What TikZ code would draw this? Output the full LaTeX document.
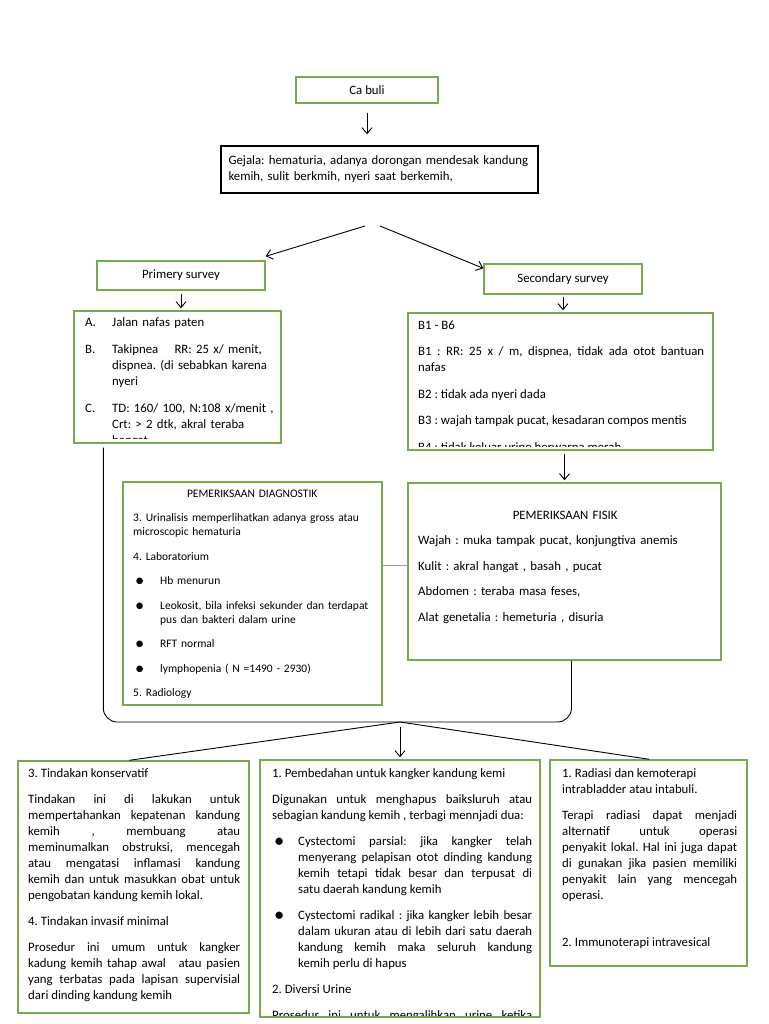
\documentclass[tikz,border=0pt]{standalone}
\usepackage{fontspec}
\setmainfont{Carlito}
\usetikzlibrary{arrows.meta}
\definecolor{boxgreen}{RGB}{122,170,80}
\definecolor{lineblue}{RGB}{120,170,220}
\newcommand{\bulitem}[1]{\makebox[#1][l]{\hspace{2pt}\raisebox{-0.2em}{\scalebox{1.6}{\textbullet}}}}
\frenchspacing

\begin{document}
\begin{tikzpicture}[x=1pt,y=-1pt,
    gbox/.style={draw=boxgreen, line width=1.4pt, inner sep=0pt, font=\fontsize{12.8}{16}\selectfont},
    kbox/.style={draw=black, line width=1.3pt, inner sep=0pt, font=\fontsize{12.8}{16}\selectfont},
    txt/.style={inner sep=0pt, anchor=base west, font=\fontsize{12.8}{16}\selectfont,
        execute at begin node={\setlength{\parskip}{#1}\tolerance=10000\hyphenpenalty=10000\hbadness=10000}},
    txt/.default=10pt,
    arr/.style={-{Straight Barb[length=6pt,width=10pt]}, line width=0.9pt},
    link/.style={line width=0.9pt}]
    \useasboundingbox (0,0) rectangle (768,1024);

    % Top
    \node[gbox, minimum width=142pt, minimum height=26pt] (cabuli) at (367,90) {Ca buli};
    \node[kbox, text width=302pt, inner xsep=7.5pt, minimum height=47pt, align=left] (gejala) at (379.5,169.5)
        {Gejala: hematuria, adanya dorongan mendesak kandung\linebreak kemih, sulit berkmih, nyeri saat berkemih,};
    \node[gbox, minimum width=168pt, minimum height=29pt] (primery) at (181,275.5) {Primery survey};
    \node[gbox, minimum width=158pt, minimum height=30pt] (secondary) at (563,279) {Secondary survey};

    % Surveys
    \node[gbox, minimum width=207pt, minimum height=132pt] (survA) at (177.5,377) {};
    \begin{scope}
        \clip (survA.north west) rectangle ([yshift=5pt]survA.south east);
        \node[txt=11pt, text width=192pt, align=left] (survAtxt) at (85,326) {%
            \hangindent=27pt\hangafter=1\makebox[27pt][l]{A.}Jalan nafas paten\par
            \hangindent=27pt\hangafter=1\makebox[27pt][l]{B.}Takipnea\hspace{12pt} RR: 25 x/ menit,\linebreak dispnea. (di sebabkan karena\linebreak nyeri\par
            \hangindent=27pt\hangafter=1\makebox[27pt][l]{C.}TD: 160/ 100, N:108 x/menit ,\linebreak Crt: > 2 dtk, akral teraba\linebreak hangat\par};
    \end{scope}
    \node[gbox, minimum width=305pt, minimum height=137pt] (survB) at (560.5,381.5) {};
    \begin{scope}
        \clip (survB.north west) rectangle ([yshift=4pt]survB.south east);
        \node[txt=10.5pt, text width=286pt, align=justify] (survBtxt) at (418,329) {%
            B1 - B6\par
            B1 : RR: 25 x / m, dispnea, tidak ada otot bantuan\linebreak nafas\par
            B2 : tidak ada nyeri dada\par
            B3 : wajah tampak pucat, kesadaran compos mentis\par
            B4 : tidak keluar urine berwarna merah};
    \end{scope}

    % Pemeriksaan
    \node[gbox, minimum width=259pt, minimum height=223pt] (diag) at (252.5,593.5) {};
    \node[txt=10.5pt, text width=238pt, align=left, font=\fontsize{11.5}{14}\selectfont] (diagtxt) at (133,497) {%
        {\centering PEMERIKSAAN DIAGNOSTIK\par}
        3. Urinalisis memperlihatkan adanya gross atau\linebreak microscopic hematuria\par
        4. Laboratorium\par
        \hangindent=27pt\hangafter=1\bulitem{27pt}Hb menurun\par
        \hangindent=27pt\hangafter=1\bulitem{27pt}Leokosit, bila infeksi sekunder dan terdapat\linebreak pus dan bakteri dalam urine\par
        \hangindent=27pt\hangafter=1\bulitem{27pt}RFT normal\par
        \hangindent=27pt\hangafter=1\bulitem{27pt}lymphopenia ( N =1490 - 2930)\par
        5. Radiology};
    \node[gbox, minimum width=313pt, minimum height=177pt] (fisik) at (564.5,571.5) {};
    \node[txt=9.5pt, text width=294pt, align=left] (fisiktxt) at (418,519) {%
        {\centering PEMERIKSAAN FISIK\par}
        Wajah : muka tampak pucat, konjungtiva anemis\par
        Kulit : akral hangat , basah , pucat\par
        Abdomen : teraba masa feses,\par
        Alat genetalia : hemeturia , disuria};

    % Tindakan
    \node[gbox, minimum width=231pt, minimum height=252pt] (konserv) at (133.5,887) {};
    \node[txt, text width=212pt, align=justify] (konservtxt) at (28,777) {%
        3. Tindakan konservatif\par
        Tindakan ini di lakukan untuk\linebreak mempertahankan kepatenan kandung\linebreak kemih , membuang atau\linebreak
        meminumalkan obstruksi, mencegah\linebreak atau mengatasi inflamasi kandung\linebreak
        kemih dan untuk masukkan obat untuk\linebreak pengobatan kandung kemih lokal.\par
        4. Tindakan invasif minimal\par
        Prosedur ini umum untuk kangker\linebreak kadung kemih tahap awal\hspace{8pt} atau pasien\linebreak
        yang terbatas pada lapisan supervisial\linebreak dari dinding kandung kemih};
    \node[gbox, minimum width=280pt, minimum height=257pt] (bedah) at (400,888.5) {};
    \begin{scope}
        \clip (bedah.north west) rectangle ([yshift=2pt]bedah.south east);
        \node[txt, text width=260pt, align=justify] (bedahtxt) at (272,777) {%
            1. Pembedahan untuk kangker kandung kemi\par
            Digunakan untuk menghapus baiksluruh atau\linebreak sebagian kandung kemih , terbagi mennjadi dua:\par
            \hangindent=26pt\hangafter=1\bulitem{26pt}Cystectomi parsial: jika kangker telah\linebreak
            menyerang pelapisan otot dinding kandung\linebreak kemih tetapi tidak besar dan terpusat di\linebreak satu daerah kandung kemih\par
            \hangindent=26pt\hangafter=1\bulitem{26pt}Cystectomi radikal : jika kangker lebih besar\linebreak
            dalam ukuran atau di lebih dari satu daerah\linebreak kandung kemih maka seluruh kandung\linebreak kemih perlu di hapus\par
            2. Diversi Urine\par
            Prosedur ini untuk mengalihkan urine ketika\linebreak\mbox{}};
    \end{scope}
    \node[gbox, minimum width=197pt, minimum height=206pt] (radiasi) at (648.5,863) {};
    \node[txt, text width=175pt, align=justify] (radiasitxt) at (562,777) {%
        1. Radiasi dan kemoterapi\newline intrabladder atau intabuli.\par
        Terapi radiasi dapat menjadi\linebreak alternatif untuk operasi\linebreak penyakit lokal. Hal ini juga dapat\linebreak
        di gunakan jika pasien memiliki\linebreak penyakit lain yang mencegah\linebreak operasi.\par
        \vspace{21pt}2. Immunoterapi intravesical};

    % Connectors
    \draw[arr, shorten <=9pt, shorten >=11pt] (cabuli.south) -- (cabuli.south |- gejala.north);
    \coordinate (splitL) at (365,226);
    \coordinate (splitR) at (380,226);
    \draw[arr] (splitL) -- ([yshift=4pt]primery.north east);
    \draw[arr] (splitR) -- ([yshift=-5pt]secondary.north west);
    \draw[arr, shorten <=3pt, shorten >=2pt] (primery.south) -- (primery.south |- survA.north);
    \draw[arr, shorten <=2pt, shorten >=2pt] (secondary.south) -- (secondary.south |- survB.north);
    \draw[arr, shorten <=3pt, shorten >=2pt] (fisik.north |- survB.south) -- (fisik.north);
    \draw[line width=0.8pt, draw=lineblue] ([yshift=28pt]diag.east) -- ([yshift=28pt]diag.east -| fisik.west);

    % Bracket
    \coordinate (hub) at (400,722);
    \draw[link, rounded corners=14pt] ([xshift=30pt,yshift=-4pt]survA.south west) |- (hub) -| ([xshift=7pt]fisik.south);
    \draw[arr, shorten <=5pt, shorten >=2pt] (hub) -- (hub |- bedah.north);
    \draw[link] (hub) -- ([xshift=112pt]konserv.north west);
    \draw[link] (hub) -- ([xshift=100pt]radiasi.north west);
\end{tikzpicture}
\end{document}
